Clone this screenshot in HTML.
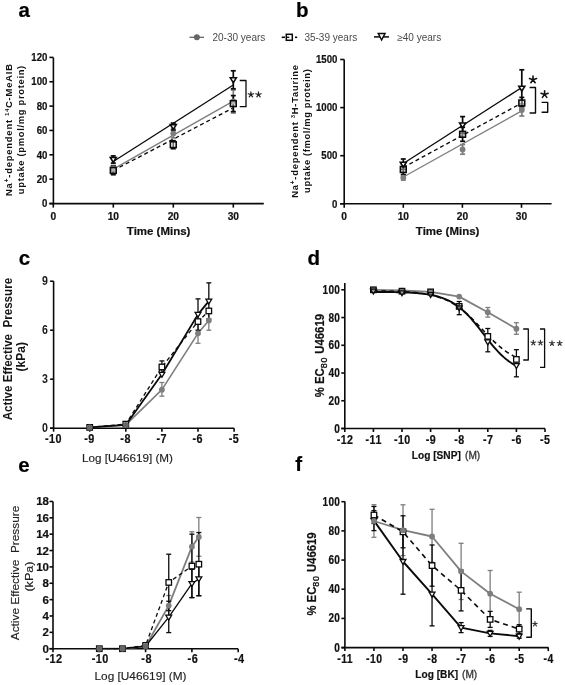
<!DOCTYPE html>
<html><head><meta charset="utf-8"><style>
html,body{margin:0;padding:0;background:#fff;}
svg{display:block;font-family:"Liberation Sans", sans-serif;will-change:transform;}
</style></head><body>
<svg width="565" height="685" viewBox="0 0 565 685">
<rect width="565" height="685" fill="#fff"/>
<text transform="translate(18.50,17.40)" font-size="20.5" font-weight="bold" text-anchor="start" fill="#000" stroke="#000" stroke-width="0.2">a</text>
<text transform="translate(296.00,17.40)" font-size="20.5" font-weight="bold" text-anchor="start" fill="#000" stroke="#000" stroke-width="0.2">b</text>
<text transform="translate(18.70,265.00)" font-size="20.5" font-weight="bold" text-anchor="start" fill="#000" stroke="#000" stroke-width="0.2">c</text>
<text transform="translate(307.50,264.50)" font-size="20.5" font-weight="bold" text-anchor="start" fill="#000" stroke="#000" stroke-width="0.2">d</text>
<text transform="translate(18.20,471.60)" font-size="20.5" font-weight="bold" text-anchor="start" fill="#000" stroke="#000" stroke-width="0.2">e</text>
<text transform="translate(295.30,471.20)" font-size="20.5" font-weight="bold" text-anchor="start" fill="#000" stroke="#000" stroke-width="0.2">f</text>
<line x1="189.50" y1="37.30" x2="204.00" y2="37.30" stroke="#666" stroke-width="1.3" stroke-linecap="butt"/>
<circle cx="196.90" cy="37.30" r="3.0" fill="#666"/>
<text transform="translate(212.50,40.50)" font-size="10" font-weight="normal" text-anchor="start" fill="#4a4a4a">20-30 years</text>
<line x1="281.70" y1="37.30" x2="285.00" y2="37.30" stroke="#0a0a0a" stroke-width="1.6" stroke-linecap="butt"/>
<line x1="295.00" y1="37.30" x2="297.20" y2="37.30" stroke="#0a0a0a" stroke-width="1.6" stroke-linecap="butt"/>
<rect x="286.30" y="34.30" width="6.00" height="6.00" fill="#fff" stroke="#0a0a0a" stroke-width="1.5"/>
<line x1="286.00" y1="37.30" x2="289.30" y2="37.30" stroke="#0a0a0a" stroke-width="1.3" stroke-linecap="butt"/>
<text transform="translate(304.40,40.50)" font-size="10" font-weight="normal" text-anchor="start" fill="#4a4a4a">35-39 years</text>
<line x1="374.00" y1="36.90" x2="389.00" y2="36.90" stroke="#0a0a0a" stroke-width="1.5" stroke-linecap="butt"/>
<polygon points="378.3,33.6 385,33.6 381.6,40" fill="#fff" stroke="#0a0a0a" stroke-width="1.5"/>
<text transform="translate(397.30,40.50)" font-size="10" font-weight="normal" text-anchor="start" fill="#4a4a4a">&#8805;40 years</text>
<line x1="53.40" y1="57.50" x2="53.40" y2="203.60" stroke="#0a0a0a" stroke-width="1.6" stroke-linecap="butt"/>
<line x1="49.40" y1="203.60" x2="263.80" y2="203.60" stroke="#0a0a0a" stroke-width="1.6" stroke-linecap="butt"/>
<line x1="49.40" y1="203.50" x2="53.40" y2="203.50" stroke="#0a0a0a" stroke-width="1.6" stroke-linecap="butt"/>
<line x1="49.40" y1="179.15" x2="53.40" y2="179.15" stroke="#0a0a0a" stroke-width="1.6" stroke-linecap="butt"/>
<line x1="49.40" y1="154.80" x2="53.40" y2="154.80" stroke="#0a0a0a" stroke-width="1.6" stroke-linecap="butt"/>
<line x1="49.40" y1="130.45" x2="53.40" y2="130.45" stroke="#0a0a0a" stroke-width="1.6" stroke-linecap="butt"/>
<line x1="49.40" y1="106.10" x2="53.40" y2="106.10" stroke="#0a0a0a" stroke-width="1.6" stroke-linecap="butt"/>
<line x1="49.40" y1="81.75" x2="53.40" y2="81.75" stroke="#0a0a0a" stroke-width="1.6" stroke-linecap="butt"/>
<line x1="49.40" y1="57.40" x2="53.40" y2="57.40" stroke="#0a0a0a" stroke-width="1.6" stroke-linecap="butt"/>
<line x1="53.30" y1="203.60" x2="53.30" y2="207.60" stroke="#0a0a0a" stroke-width="1.6" stroke-linecap="butt"/>
<line x1="113.30" y1="203.60" x2="113.30" y2="207.60" stroke="#0a0a0a" stroke-width="1.6" stroke-linecap="butt"/>
<line x1="173.30" y1="203.60" x2="173.30" y2="207.60" stroke="#0a0a0a" stroke-width="1.6" stroke-linecap="butt"/>
<line x1="233.30" y1="203.60" x2="233.30" y2="207.60" stroke="#0a0a0a" stroke-width="1.6" stroke-linecap="butt"/>
<text transform="translate(47.40,207.20) scale(0.92,1)" font-size="10.5" font-weight="bold" text-anchor="end" fill="#111" stroke="#111" stroke-width="0.2">0</text>
<text transform="translate(47.40,182.85) scale(0.92,1)" font-size="10.5" font-weight="bold" text-anchor="end" fill="#111" stroke="#111" stroke-width="0.2">20</text>
<text transform="translate(47.40,158.50) scale(0.92,1)" font-size="10.5" font-weight="bold" text-anchor="end" fill="#111" stroke="#111" stroke-width="0.2">40</text>
<text transform="translate(47.40,134.15) scale(0.92,1)" font-size="10.5" font-weight="bold" text-anchor="end" fill="#111" stroke="#111" stroke-width="0.2">60</text>
<text transform="translate(47.40,109.80) scale(0.92,1)" font-size="10.5" font-weight="bold" text-anchor="end" fill="#111" stroke="#111" stroke-width="0.2">80</text>
<text transform="translate(47.40,85.45) scale(0.92,1)" font-size="10.5" font-weight="bold" text-anchor="end" fill="#111" stroke="#111" stroke-width="0.2">100</text>
<text transform="translate(47.40,61.10) scale(0.92,1)" font-size="10.5" font-weight="bold" text-anchor="end" fill="#111" stroke="#111" stroke-width="0.2">120</text>
<text transform="translate(53.30,219.60)" font-size="10.2" font-weight="bold" text-anchor="middle" fill="#111" stroke="#111" stroke-width="0.2">0</text>
<text transform="translate(113.30,219.60)" font-size="10.2" font-weight="bold" text-anchor="middle" fill="#111" stroke="#111" stroke-width="0.2">10</text>
<text transform="translate(173.30,219.60)" font-size="10.2" font-weight="bold" text-anchor="middle" fill="#111" stroke="#111" stroke-width="0.2">20</text>
<text transform="translate(233.30,219.60)" font-size="10.2" font-weight="bold" text-anchor="middle" fill="#111" stroke="#111" stroke-width="0.2">30</text>
<text transform="translate(158.60,235.20) scale(0.99,1)" font-size="11.6" font-weight="bold" text-anchor="middle" fill="#111" stroke="#111" stroke-width="0.2">Time (Mins)</text>
<text transform="translate(12.20,129.60) rotate(-90)" font-size="9.4" font-weight="bold" text-anchor="middle" fill="#111" letter-spacing="0.81">Na<tspan font-size="6.5" dy="-3.5">+</tspan><tspan dy="3.5">-dependent </tspan><tspan font-size="5.5" dy="-3.5">14</tspan><tspan dy="3.5">C-MeAIB</tspan></text>
<text transform="translate(23.80,129.60) rotate(-90)" font-size="9.4" font-weight="bold" text-anchor="middle" fill="#111" letter-spacing="0.69">uptake (pmol/mg protein)</text>
<line x1="113.30" y1="161.50" x2="233.30" y2="85.00" stroke="#0a0a0a" stroke-width="1.35" stroke-linecap="butt"/>
<line x1="113.30" y1="169.20" x2="233.30" y2="101.10" stroke="#7e7e7e" stroke-width="1.35" stroke-linecap="butt"/>
<line x1="113.30" y1="170.50" x2="233.30" y2="107.80" stroke="#0a0a0a" stroke-width="1.35" stroke-linecap="butt" stroke-dasharray="4,3"/>
<line x1="113.30" y1="165.50" x2="113.30" y2="171.50" stroke="#7e7e7e" stroke-width="1.7" stroke-linecap="butt"/>
<line x1="110.80" y1="165.50" x2="115.80" y2="165.50" stroke="#7e7e7e" stroke-width="1.7" stroke-linecap="butt"/>
<line x1="110.80" y1="171.50" x2="115.80" y2="171.50" stroke="#7e7e7e" stroke-width="1.7" stroke-linecap="butt"/>
<line x1="173.30" y1="128.90" x2="173.30" y2="137.90" stroke="#7e7e7e" stroke-width="1.7" stroke-linecap="butt"/>
<line x1="170.80" y1="128.90" x2="175.80" y2="128.90" stroke="#7e7e7e" stroke-width="1.7" stroke-linecap="butt"/>
<line x1="170.80" y1="137.90" x2="175.80" y2="137.90" stroke="#7e7e7e" stroke-width="1.7" stroke-linecap="butt"/>
<line x1="233.30" y1="90.00" x2="233.30" y2="113.00" stroke="#7e7e7e" stroke-width="1.7" stroke-linecap="butt"/>
<line x1="230.80" y1="90.00" x2="235.80" y2="90.00" stroke="#7e7e7e" stroke-width="1.7" stroke-linecap="butt"/>
<line x1="230.80" y1="113.00" x2="235.80" y2="113.00" stroke="#7e7e7e" stroke-width="1.7" stroke-linecap="butt"/>
<line x1="113.30" y1="155.90" x2="113.30" y2="163.10" stroke="#0a0a0a" stroke-width="1.7" stroke-linecap="butt"/>
<line x1="110.80" y1="155.90" x2="115.80" y2="155.90" stroke="#0a0a0a" stroke-width="1.7" stroke-linecap="butt"/>
<line x1="110.80" y1="163.10" x2="115.80" y2="163.10" stroke="#0a0a0a" stroke-width="1.7" stroke-linecap="butt"/>
<line x1="173.30" y1="123.10" x2="173.30" y2="130.10" stroke="#0a0a0a" stroke-width="1.7" stroke-linecap="butt"/>
<line x1="170.80" y1="123.10" x2="175.80" y2="123.10" stroke="#0a0a0a" stroke-width="1.7" stroke-linecap="butt"/>
<line x1="170.80" y1="130.10" x2="175.80" y2="130.10" stroke="#0a0a0a" stroke-width="1.7" stroke-linecap="butt"/>
<line x1="233.30" y1="70.80" x2="233.30" y2="88.80" stroke="#0a0a0a" stroke-width="1.7" stroke-linecap="butt"/>
<line x1="230.80" y1="70.80" x2="235.80" y2="70.80" stroke="#0a0a0a" stroke-width="1.7" stroke-linecap="butt"/>
<line x1="230.80" y1="88.80" x2="235.80" y2="88.80" stroke="#0a0a0a" stroke-width="1.7" stroke-linecap="butt"/>
<line x1="113.30" y1="166.10" x2="113.30" y2="174.70" stroke="#0a0a0a" stroke-width="1.7" stroke-linecap="butt"/>
<line x1="110.80" y1="166.10" x2="115.80" y2="166.10" stroke="#0a0a0a" stroke-width="1.7" stroke-linecap="butt"/>
<line x1="110.80" y1="174.70" x2="115.80" y2="174.70" stroke="#0a0a0a" stroke-width="1.7" stroke-linecap="butt"/>
<line x1="173.30" y1="140.70" x2="173.30" y2="148.70" stroke="#0a0a0a" stroke-width="1.7" stroke-linecap="butt"/>
<line x1="170.80" y1="140.70" x2="175.80" y2="140.70" stroke="#0a0a0a" stroke-width="1.7" stroke-linecap="butt"/>
<line x1="170.80" y1="148.70" x2="175.80" y2="148.70" stroke="#0a0a0a" stroke-width="1.7" stroke-linecap="butt"/>
<line x1="233.30" y1="95.60" x2="233.30" y2="111.60" stroke="#0a0a0a" stroke-width="1.7" stroke-linecap="butt"/>
<line x1="230.80" y1="95.60" x2="235.80" y2="95.60" stroke="#0a0a0a" stroke-width="1.7" stroke-linecap="butt"/>
<line x1="230.80" y1="111.60" x2="235.80" y2="111.60" stroke="#0a0a0a" stroke-width="1.7" stroke-linecap="butt"/>
<circle cx="113.30" cy="168.50" r="2.9" fill="#7e7e7e"/>
<circle cx="173.30" cy="133.40" r="2.9" fill="#7e7e7e"/>
<circle cx="233.30" cy="101.50" r="2.9" fill="#7e7e7e"/>
<rect x="110.40" y="167.50" width="5.80" height="5.80" fill="#fff" fill-opacity="0.4" stroke="#0a0a0a" stroke-width="1.6"/>
<rect x="170.40" y="141.80" width="5.80" height="5.80" fill="#fff" fill-opacity="0.4" stroke="#0a0a0a" stroke-width="1.6"/>
<rect x="230.40" y="100.70" width="5.80" height="5.80" fill="#fff" fill-opacity="0.4" stroke="#0a0a0a" stroke-width="1.6"/>
<polygon points="110.30,157.50 116.30,157.50 113.30,162.40" fill="#fff" stroke="#0a0a0a" stroke-width="1.6" stroke-linejoin="miter"/>
<polygon points="170.30,124.60 176.30,124.60 173.30,129.50" fill="#fff" stroke="#0a0a0a" stroke-width="1.6" stroke-linejoin="miter"/>
<polygon points="230.30,77.80 236.30,77.80 233.30,82.70" fill="#fff" stroke="#0a0a0a" stroke-width="1.6" stroke-linejoin="miter"/>
<polyline points="239.70,80.50 246.00,80.50 246.00,106.70 239.70,106.70" fill="none" stroke="#0a0a0a" stroke-width="1.3" stroke-linejoin="round"/>
<path d="M250.90,94.60L250.90,91.80M250.90,94.60L253.56,93.73M250.90,94.60L252.55,96.87M250.90,94.60L249.25,96.87M250.90,94.60L248.24,93.73" stroke="#222" stroke-width="1.2" stroke-linecap="round" fill="none"/>
<path d="M258.50,94.60L258.50,91.80M258.50,94.60L261.16,93.73M258.50,94.60L260.15,96.87M258.50,94.60L256.85,96.87M258.50,94.60L255.84,93.73" stroke="#222" stroke-width="1.2" stroke-linecap="round" fill="none"/>
<line x1="344.20" y1="59.50" x2="344.20" y2="203.80" stroke="#0a0a0a" stroke-width="1.6" stroke-linecap="butt"/>
<line x1="340.20" y1="203.80" x2="551.60" y2="203.80" stroke="#0a0a0a" stroke-width="1.6" stroke-linecap="butt"/>
<line x1="340.20" y1="203.80" x2="344.20" y2="203.80" stroke="#0a0a0a" stroke-width="1.6" stroke-linecap="butt"/>
<line x1="340.20" y1="155.70" x2="344.20" y2="155.70" stroke="#0a0a0a" stroke-width="1.6" stroke-linecap="butt"/>
<line x1="340.20" y1="107.60" x2="344.20" y2="107.60" stroke="#0a0a0a" stroke-width="1.6" stroke-linecap="butt"/>
<line x1="340.20" y1="59.50" x2="344.20" y2="59.50" stroke="#0a0a0a" stroke-width="1.6" stroke-linecap="butt"/>
<line x1="344.20" y1="203.80" x2="344.20" y2="207.80" stroke="#0a0a0a" stroke-width="1.6" stroke-linecap="butt"/>
<line x1="403.30" y1="203.80" x2="403.30" y2="207.80" stroke="#0a0a0a" stroke-width="1.6" stroke-linecap="butt"/>
<line x1="462.40" y1="203.80" x2="462.40" y2="207.80" stroke="#0a0a0a" stroke-width="1.6" stroke-linecap="butt"/>
<line x1="521.50" y1="203.80" x2="521.50" y2="207.80" stroke="#0a0a0a" stroke-width="1.6" stroke-linecap="butt"/>
<text transform="translate(337.40,207.50) scale(0.92,1)" font-size="10.5" font-weight="bold" text-anchor="end" fill="#111" stroke="#111" stroke-width="0.2">0</text>
<text transform="translate(337.40,159.40) scale(0.92,1)" font-size="10.5" font-weight="bold" text-anchor="end" fill="#111" stroke="#111" stroke-width="0.2">500</text>
<text transform="translate(337.40,111.30) scale(0.92,1)" font-size="10.5" font-weight="bold" text-anchor="end" fill="#111" stroke="#111" stroke-width="0.2">1000</text>
<text transform="translate(337.40,63.20) scale(0.92,1)" font-size="10.5" font-weight="bold" text-anchor="end" fill="#111" stroke="#111" stroke-width="0.2">1500</text>
<text transform="translate(344.20,219.60)" font-size="10.2" font-weight="bold" text-anchor="middle" fill="#111" stroke="#111" stroke-width="0.2">0</text>
<text transform="translate(403.30,219.60)" font-size="10.2" font-weight="bold" text-anchor="middle" fill="#111" stroke="#111" stroke-width="0.2">10</text>
<text transform="translate(462.40,219.60)" font-size="10.2" font-weight="bold" text-anchor="middle" fill="#111" stroke="#111" stroke-width="0.2">20</text>
<text transform="translate(521.50,219.60)" font-size="10.2" font-weight="bold" text-anchor="middle" fill="#111" stroke="#111" stroke-width="0.2">30</text>
<text transform="translate(447.60,235.20) scale(0.99,1)" font-size="11.6" font-weight="bold" text-anchor="middle" fill="#111" stroke="#111" stroke-width="0.2">Time (Mins)</text>
<text transform="translate(298.40,131.00) rotate(-90)" font-size="9.4" font-weight="bold" text-anchor="middle" fill="#111" letter-spacing="0.77">Na<tspan font-size="6.5" dy="-3.5">+</tspan><tspan dy="3.5">-dependent </tspan><tspan font-size="5.5" dy="-3.5">3</tspan><tspan dy="3.5">H-Taurine</tspan></text>
<text transform="translate(309.80,130.80) rotate(-90)" font-size="9.4" font-weight="bold" text-anchor="middle" fill="#111" letter-spacing="0.6">uptake (fmol/mg protein)</text>
<line x1="403.30" y1="163.50" x2="521.80" y2="87.50" stroke="#0a0a0a" stroke-width="1.35" stroke-linecap="butt"/>
<line x1="403.30" y1="177.00" x2="521.80" y2="110.90" stroke="#7e7e7e" stroke-width="1.35" stroke-linecap="butt"/>
<line x1="403.30" y1="167.50" x2="521.80" y2="103.00" stroke="#0a0a0a" stroke-width="1.35" stroke-linecap="butt" stroke-dasharray="4,3"/>
<line x1="403.30" y1="175.10" x2="403.30" y2="180.10" stroke="#7e7e7e" stroke-width="1.7" stroke-linecap="butt"/>
<line x1="400.80" y1="175.10" x2="405.80" y2="175.10" stroke="#7e7e7e" stroke-width="1.7" stroke-linecap="butt"/>
<line x1="400.80" y1="180.10" x2="405.80" y2="180.10" stroke="#7e7e7e" stroke-width="1.7" stroke-linecap="butt"/>
<line x1="462.60" y1="144.60" x2="462.60" y2="154.20" stroke="#7e7e7e" stroke-width="1.7" stroke-linecap="butt"/>
<line x1="460.10" y1="144.60" x2="465.10" y2="144.60" stroke="#7e7e7e" stroke-width="1.7" stroke-linecap="butt"/>
<line x1="460.10" y1="154.20" x2="465.10" y2="154.20" stroke="#7e7e7e" stroke-width="1.7" stroke-linecap="butt"/>
<line x1="521.80" y1="104.00" x2="521.80" y2="116.00" stroke="#7e7e7e" stroke-width="1.7" stroke-linecap="butt"/>
<line x1="519.30" y1="104.00" x2="524.30" y2="104.00" stroke="#7e7e7e" stroke-width="1.7" stroke-linecap="butt"/>
<line x1="519.30" y1="116.00" x2="524.30" y2="116.00" stroke="#7e7e7e" stroke-width="1.7" stroke-linecap="butt"/>
<line x1="403.30" y1="159.00" x2="403.30" y2="169.40" stroke="#0a0a0a" stroke-width="1.7" stroke-linecap="butt"/>
<line x1="400.80" y1="159.00" x2="405.80" y2="159.00" stroke="#0a0a0a" stroke-width="1.7" stroke-linecap="butt"/>
<line x1="400.80" y1="169.40" x2="405.80" y2="169.40" stroke="#0a0a0a" stroke-width="1.7" stroke-linecap="butt"/>
<line x1="462.60" y1="116.60" x2="462.60" y2="133.40" stroke="#0a0a0a" stroke-width="1.7" stroke-linecap="butt"/>
<line x1="460.10" y1="116.60" x2="465.10" y2="116.60" stroke="#0a0a0a" stroke-width="1.7" stroke-linecap="butt"/>
<line x1="460.10" y1="133.40" x2="465.10" y2="133.40" stroke="#0a0a0a" stroke-width="1.7" stroke-linecap="butt"/>
<line x1="521.80" y1="69.80" x2="521.80" y2="106.60" stroke="#0a0a0a" stroke-width="1.7" stroke-linecap="butt"/>
<line x1="519.30" y1="69.80" x2="524.30" y2="69.80" stroke="#0a0a0a" stroke-width="1.7" stroke-linecap="butt"/>
<line x1="519.30" y1="106.60" x2="524.30" y2="106.60" stroke="#0a0a0a" stroke-width="1.7" stroke-linecap="butt"/>
<line x1="403.30" y1="164.50" x2="403.30" y2="174.50" stroke="#0a0a0a" stroke-width="1.7" stroke-linecap="butt"/>
<line x1="400.80" y1="164.50" x2="405.80" y2="164.50" stroke="#0a0a0a" stroke-width="1.7" stroke-linecap="butt"/>
<line x1="400.80" y1="174.50" x2="405.80" y2="174.50" stroke="#0a0a0a" stroke-width="1.7" stroke-linecap="butt"/>
<line x1="462.60" y1="127.30" x2="462.60" y2="141.30" stroke="#0a0a0a" stroke-width="1.7" stroke-linecap="butt"/>
<line x1="460.10" y1="127.30" x2="465.10" y2="127.30" stroke="#0a0a0a" stroke-width="1.7" stroke-linecap="butt"/>
<line x1="460.10" y1="141.30" x2="465.10" y2="141.30" stroke="#0a0a0a" stroke-width="1.7" stroke-linecap="butt"/>
<line x1="521.80" y1="97.40" x2="521.80" y2="108.60" stroke="#0a0a0a" stroke-width="1.7" stroke-linecap="butt"/>
<line x1="519.30" y1="97.40" x2="524.30" y2="97.40" stroke="#0a0a0a" stroke-width="1.7" stroke-linecap="butt"/>
<line x1="519.30" y1="108.60" x2="524.30" y2="108.60" stroke="#0a0a0a" stroke-width="1.7" stroke-linecap="butt"/>
<circle cx="403.30" cy="177.60" r="2.9" fill="#7e7e7e"/>
<circle cx="462.60" cy="149.40" r="2.9" fill="#7e7e7e"/>
<circle cx="521.80" cy="110.00" r="2.9" fill="#7e7e7e"/>
<rect x="400.40" y="166.60" width="5.80" height="5.80" fill="#fff" fill-opacity="0.4" stroke="#0a0a0a" stroke-width="1.6"/>
<rect x="459.70" y="131.40" width="5.80" height="5.80" fill="#fff" fill-opacity="0.4" stroke="#0a0a0a" stroke-width="1.6"/>
<rect x="518.90" y="100.10" width="5.80" height="5.80" fill="#fff" fill-opacity="0.4" stroke="#0a0a0a" stroke-width="1.6"/>
<polygon points="400.30,162.20 406.30,162.20 403.30,167.10" fill="#fff" stroke="#0a0a0a" stroke-width="1.6" stroke-linejoin="miter"/>
<polygon points="459.60,123.00 465.60,123.00 462.60,127.90" fill="#fff" stroke="#0a0a0a" stroke-width="1.6" stroke-linejoin="miter"/>
<polygon points="518.80,86.20 524.80,86.20 521.80,91.10" fill="#fff" stroke="#0a0a0a" stroke-width="1.6" stroke-linejoin="miter"/>
<polyline points="529.60,87.50 535.50,87.50 535.50,113.00 529.60,113.00" fill="none" stroke="#0a0a0a" stroke-width="1.4" stroke-linejoin="round"/>
<polyline points="541.60,102.40 547.70,102.40 547.70,112.30 541.60,112.30" fill="none" stroke="#0a0a0a" stroke-width="1.4" stroke-linejoin="round"/>
<path d="M533.00,79.70L533.00,76.00M533.00,79.70L536.52,78.56M533.00,79.70L535.17,82.69M533.00,79.70L530.83,82.69M533.00,79.70L529.48,78.56" stroke="#111" stroke-width="1.6" stroke-linecap="round" fill="none"/>
<path d="M544.60,94.40L544.60,90.70M544.60,94.40L548.12,93.26M544.60,94.40L546.77,97.39M544.60,94.40L542.43,97.39M544.60,94.40L541.08,93.26" stroke="#111" stroke-width="1.6" stroke-linecap="round" fill="none"/>
<line x1="53.60" y1="281.20" x2="53.60" y2="428.20" stroke="#0a0a0a" stroke-width="1.6" stroke-linecap="butt"/>
<line x1="50.10" y1="428.20" x2="234.10" y2="428.20" stroke="#0a0a0a" stroke-width="1.6" stroke-linecap="butt"/>
<line x1="50.10" y1="428.20" x2="53.60" y2="428.20" stroke="#0a0a0a" stroke-width="1.6" stroke-linecap="butt"/>
<line x1="50.10" y1="379.21" x2="53.60" y2="379.21" stroke="#0a0a0a" stroke-width="1.6" stroke-linecap="butt"/>
<line x1="50.10" y1="330.22" x2="53.60" y2="330.22" stroke="#0a0a0a" stroke-width="1.6" stroke-linecap="butt"/>
<line x1="50.10" y1="281.23" x2="53.60" y2="281.23" stroke="#0a0a0a" stroke-width="1.6" stroke-linecap="butt"/>
<line x1="53.60" y1="428.20" x2="53.60" y2="431.70" stroke="#0a0a0a" stroke-width="1.6" stroke-linecap="butt"/>
<line x1="89.70" y1="428.20" x2="89.70" y2="431.70" stroke="#0a0a0a" stroke-width="1.6" stroke-linecap="butt"/>
<line x1="125.80" y1="428.20" x2="125.80" y2="431.70" stroke="#0a0a0a" stroke-width="1.6" stroke-linecap="butt"/>
<line x1="161.90" y1="428.20" x2="161.90" y2="431.70" stroke="#0a0a0a" stroke-width="1.6" stroke-linecap="butt"/>
<line x1="198.00" y1="428.20" x2="198.00" y2="431.70" stroke="#0a0a0a" stroke-width="1.6" stroke-linecap="butt"/>
<line x1="234.10" y1="428.20" x2="234.10" y2="431.70" stroke="#0a0a0a" stroke-width="1.6" stroke-linecap="butt"/>
<text transform="translate(48.00,432.40) scale(0.87,1)" font-size="12.2" font-weight="bold" text-anchor="end" fill="#1a1a1a">0</text>
<text transform="translate(48.00,383.41) scale(0.87,1)" font-size="12.2" font-weight="bold" text-anchor="end" fill="#1a1a1a">3</text>
<text transform="translate(48.00,334.42) scale(0.87,1)" font-size="12.2" font-weight="bold" text-anchor="end" fill="#1a1a1a">6</text>
<text transform="translate(48.00,285.43) scale(0.87,1)" font-size="12.2" font-weight="bold" text-anchor="end" fill="#1a1a1a">9</text>
<text transform="translate(53.40,442.60) scale(0.9,1)" font-size="12.0" font-weight="bold" text-anchor="middle" fill="#111" letter-spacing="0.5" stroke="#111" stroke-width="0.2">-10</text>
<text transform="translate(89.50,442.60) scale(0.9,1)" font-size="12.0" font-weight="bold" text-anchor="middle" fill="#111" letter-spacing="0.5" stroke="#111" stroke-width="0.2">-9</text>
<text transform="translate(125.60,442.60) scale(0.9,1)" font-size="12.0" font-weight="bold" text-anchor="middle" fill="#111" letter-spacing="0.5" stroke="#111" stroke-width="0.2">-8</text>
<text transform="translate(161.70,442.60) scale(0.9,1)" font-size="12.0" font-weight="bold" text-anchor="middle" fill="#111" letter-spacing="0.5" stroke="#111" stroke-width="0.2">-7</text>
<text transform="translate(197.80,442.60) scale(0.9,1)" font-size="12.0" font-weight="bold" text-anchor="middle" fill="#111" letter-spacing="0.5" stroke="#111" stroke-width="0.2">-6</text>
<text transform="translate(233.90,442.60) scale(0.9,1)" font-size="12.0" font-weight="bold" text-anchor="middle" fill="#111" letter-spacing="0.5" stroke="#111" stroke-width="0.2">-5</text>
<text transform="translate(127.50,462.20) scale(1.01,1)" font-size="11.6" font-weight="normal" text-anchor="middle" fill="#222" stroke="#222" stroke-width="0.15">Log [U46619] (M)</text>
<text transform="translate(11.90,349.10) rotate(-90) scale(0.935,1)" font-size="12.4" font-weight="bold" text-anchor="middle" fill="#151515">Active Effective&#160; Pressure</text>
<text transform="translate(25.30,356.80) rotate(-90)" font-size="12.0" font-weight="bold" text-anchor="middle" fill="#151515">(kPa)</text>
<polyline points="89.70,427.38 125.80,424.93 161.90,389.66 198.00,333.32 208.83,320.42" fill="none" stroke="#7e7e7e" stroke-width="1.6" stroke-linejoin="round"/>
<polyline points="89.70,427.38 125.80,424.12 161.90,366.96 198.00,321.57 208.83,310.95" fill="none" stroke="#0a0a0a" stroke-width="1.3" stroke-linejoin="round" stroke-dasharray="4,3"/>
<polyline points="89.70,427.38 125.80,424.93 161.90,374.31 198.00,314.38 208.83,301.15" fill="none" stroke="#0a0a0a" stroke-width="1.8" stroke-linejoin="round"/>
<line x1="161.90" y1="382.48" x2="161.90" y2="396.19" stroke="#7e7e7e" stroke-width="1.3" stroke-linecap="butt"/>
<line x1="159.40" y1="382.48" x2="164.40" y2="382.48" stroke="#7e7e7e" stroke-width="1.3" stroke-linecap="butt"/>
<line x1="159.40" y1="396.19" x2="164.40" y2="396.19" stroke="#7e7e7e" stroke-width="1.3" stroke-linecap="butt"/>
<line x1="198.00" y1="323.69" x2="198.00" y2="343.28" stroke="#7e7e7e" stroke-width="1.3" stroke-linecap="butt"/>
<line x1="195.50" y1="323.69" x2="200.50" y2="323.69" stroke="#7e7e7e" stroke-width="1.3" stroke-linecap="butt"/>
<line x1="195.50" y1="343.28" x2="200.50" y2="343.28" stroke="#7e7e7e" stroke-width="1.3" stroke-linecap="butt"/>
<line x1="208.83" y1="310.62" x2="208.83" y2="330.22" stroke="#7e7e7e" stroke-width="1.3" stroke-linecap="butt"/>
<line x1="206.33" y1="310.62" x2="211.33" y2="310.62" stroke="#7e7e7e" stroke-width="1.3" stroke-linecap="butt"/>
<line x1="206.33" y1="330.22" x2="211.33" y2="330.22" stroke="#7e7e7e" stroke-width="1.3" stroke-linecap="butt"/>
<line x1="161.90" y1="360.92" x2="161.90" y2="372.68" stroke="#0a0a0a" stroke-width="1.3" stroke-linecap="butt"/>
<line x1="159.40" y1="360.92" x2="164.40" y2="360.92" stroke="#0a0a0a" stroke-width="1.3" stroke-linecap="butt"/>
<line x1="159.40" y1="372.68" x2="164.40" y2="372.68" stroke="#0a0a0a" stroke-width="1.3" stroke-linecap="butt"/>
<line x1="198.00" y1="298.87" x2="198.00" y2="330.22" stroke="#0a0a0a" stroke-width="1.3" stroke-linecap="butt"/>
<line x1="195.50" y1="298.87" x2="200.50" y2="298.87" stroke="#0a0a0a" stroke-width="1.3" stroke-linecap="butt"/>
<line x1="195.50" y1="330.22" x2="200.50" y2="330.22" stroke="#0a0a0a" stroke-width="1.3" stroke-linecap="butt"/>
<line x1="208.83" y1="282.86" x2="208.83" y2="318.79" stroke="#0a0a0a" stroke-width="1.3" stroke-linecap="butt"/>
<line x1="206.33" y1="282.86" x2="211.33" y2="282.86" stroke="#0a0a0a" stroke-width="1.3" stroke-linecap="butt"/>
<line x1="206.33" y1="318.79" x2="211.33" y2="318.79" stroke="#0a0a0a" stroke-width="1.3" stroke-linecap="butt"/>
<rect x="86.95" y="424.63" width="5.50" height="5.50" fill="#fff" stroke="#0a0a0a" stroke-width="1.3"/>
<rect x="123.05" y="421.37" width="5.50" height="5.50" fill="#fff" stroke="#0a0a0a" stroke-width="1.3"/>
<rect x="159.15" y="364.21" width="5.50" height="5.50" fill="#fff" stroke="#0a0a0a" stroke-width="1.3"/>
<rect x="195.25" y="318.82" width="5.50" height="5.50" fill="#fff" stroke="#0a0a0a" stroke-width="1.3"/>
<rect x="206.08" y="308.20" width="5.50" height="5.50" fill="#fff" stroke="#0a0a0a" stroke-width="1.3"/>
<polygon points="159.00,372.31 164.80,372.31 161.90,377.21" fill="#fff" stroke="#0a0a0a" stroke-width="1.3" stroke-linejoin="miter"/>
<polygon points="195.10,312.38 200.90,312.38 198.00,317.28" fill="#fff" stroke="#0a0a0a" stroke-width="1.3" stroke-linejoin="miter"/>
<polygon points="205.93,299.15 211.73,299.15 208.83,304.05" fill="#fff" stroke="#0a0a0a" stroke-width="1.3" stroke-linejoin="miter"/>
<circle cx="89.70" cy="427.38" r="3.0" fill="#666"/>
<circle cx="125.80" cy="424.93" r="3.0" fill="#666"/>
<circle cx="161.90" cy="389.66" r="2.9" fill="#7e7e7e"/>
<circle cx="198.00" cy="333.32" r="2.9" fill="#7e7e7e"/>
<circle cx="208.83" cy="320.42" r="2.9" fill="#7e7e7e"/>
<line x1="344.80" y1="283.00" x2="344.80" y2="428.50" stroke="#0a0a0a" stroke-width="1.6" stroke-linecap="butt"/>
<line x1="341.30" y1="428.50" x2="545.00" y2="428.50" stroke="#0a0a0a" stroke-width="1.6" stroke-linecap="butt"/>
<line x1="341.30" y1="428.50" x2="344.80" y2="428.50" stroke="#0a0a0a" stroke-width="1.6" stroke-linecap="butt"/>
<line x1="341.30" y1="400.76" x2="344.80" y2="400.76" stroke="#0a0a0a" stroke-width="1.6" stroke-linecap="butt"/>
<line x1="341.30" y1="373.02" x2="344.80" y2="373.02" stroke="#0a0a0a" stroke-width="1.6" stroke-linecap="butt"/>
<line x1="341.30" y1="345.28" x2="344.80" y2="345.28" stroke="#0a0a0a" stroke-width="1.6" stroke-linecap="butt"/>
<line x1="341.30" y1="317.54" x2="344.80" y2="317.54" stroke="#0a0a0a" stroke-width="1.6" stroke-linecap="butt"/>
<line x1="341.30" y1="289.80" x2="344.80" y2="289.80" stroke="#0a0a0a" stroke-width="1.6" stroke-linecap="butt"/>
<line x1="344.80" y1="428.50" x2="344.80" y2="432.00" stroke="#0a0a0a" stroke-width="1.6" stroke-linecap="butt"/>
<line x1="373.40" y1="428.50" x2="373.40" y2="432.00" stroke="#0a0a0a" stroke-width="1.6" stroke-linecap="butt"/>
<line x1="402.00" y1="428.50" x2="402.00" y2="432.00" stroke="#0a0a0a" stroke-width="1.6" stroke-linecap="butt"/>
<line x1="430.60" y1="428.50" x2="430.60" y2="432.00" stroke="#0a0a0a" stroke-width="1.6" stroke-linecap="butt"/>
<line x1="459.20" y1="428.50" x2="459.20" y2="432.00" stroke="#0a0a0a" stroke-width="1.6" stroke-linecap="butt"/>
<line x1="487.80" y1="428.50" x2="487.80" y2="432.00" stroke="#0a0a0a" stroke-width="1.6" stroke-linecap="butt"/>
<line x1="516.40" y1="428.50" x2="516.40" y2="432.00" stroke="#0a0a0a" stroke-width="1.6" stroke-linecap="butt"/>
<line x1="545.00" y1="428.50" x2="545.00" y2="432.00" stroke="#0a0a0a" stroke-width="1.6" stroke-linecap="butt"/>
<text transform="translate(340.30,432.50) scale(0.82,1)" font-size="12.3" font-weight="bold" text-anchor="end" fill="#111" letter-spacing="0.4" stroke="#111" stroke-width="0.2">0</text>
<text transform="translate(340.30,404.76) scale(0.82,1)" font-size="12.3" font-weight="bold" text-anchor="end" fill="#111" letter-spacing="0.4" stroke="#111" stroke-width="0.2">20</text>
<text transform="translate(340.30,377.02) scale(0.82,1)" font-size="12.3" font-weight="bold" text-anchor="end" fill="#111" letter-spacing="0.4" stroke="#111" stroke-width="0.2">40</text>
<text transform="translate(340.30,349.28) scale(0.82,1)" font-size="12.3" font-weight="bold" text-anchor="end" fill="#111" letter-spacing="0.4" stroke="#111" stroke-width="0.2">60</text>
<text transform="translate(340.30,321.54) scale(0.82,1)" font-size="12.3" font-weight="bold" text-anchor="end" fill="#111" letter-spacing="0.4" stroke="#111" stroke-width="0.2">80</text>
<text transform="translate(340.30,293.80) scale(0.82,1)" font-size="12.3" font-weight="bold" text-anchor="end" fill="#111" letter-spacing="0.4" stroke="#111" stroke-width="0.2">100</text>
<text transform="translate(345.10,443.70) scale(0.87,1)" font-size="12.3" font-weight="bold" text-anchor="middle" fill="#111" letter-spacing="0.5" stroke="#111" stroke-width="0.2">-12</text>
<text transform="translate(373.70,443.70) scale(0.87,1)" font-size="12.3" font-weight="bold" text-anchor="middle" fill="#111" letter-spacing="0.5" stroke="#111" stroke-width="0.2">-11</text>
<text transform="translate(402.30,443.70) scale(0.87,1)" font-size="12.3" font-weight="bold" text-anchor="middle" fill="#111" letter-spacing="0.5" stroke="#111" stroke-width="0.2">-10</text>
<text transform="translate(430.90,443.70) scale(0.87,1)" font-size="12.3" font-weight="bold" text-anchor="middle" fill="#111" letter-spacing="0.5" stroke="#111" stroke-width="0.2">-9</text>
<text transform="translate(459.50,443.70) scale(0.87,1)" font-size="12.3" font-weight="bold" text-anchor="middle" fill="#111" letter-spacing="0.5" stroke="#111" stroke-width="0.2">-8</text>
<text transform="translate(488.10,443.70) scale(0.87,1)" font-size="12.3" font-weight="bold" text-anchor="middle" fill="#111" letter-spacing="0.5" stroke="#111" stroke-width="0.2">-7</text>
<text transform="translate(516.70,443.70) scale(0.87,1)" font-size="12.3" font-weight="bold" text-anchor="middle" fill="#111" letter-spacing="0.5" stroke="#111" stroke-width="0.2">-6</text>
<text transform="translate(545.30,443.70) scale(0.87,1)" font-size="12.3" font-weight="bold" text-anchor="middle" fill="#111" letter-spacing="0.5" stroke="#111" stroke-width="0.2">-5</text>
<text transform="translate(411.80,459.20) scale(0.86,1)" font-size="11.8" font-weight="bold" text-anchor="start" fill="#111" stroke="#111" stroke-width="0.2">Log [SNP]</text>
<text transform="translate(465.00,459.20) scale(0.86,1)" font-size="11.8" font-weight="normal" text-anchor="start" fill="#333" stroke="#333" stroke-width="0.35">(M)</text>
<text transform="translate(324.00,355.60) rotate(-90) scale(0.93,1)" font-size="12.2" font-weight="bold" text-anchor="middle" fill="#111" stroke="#111" stroke-width="0.2">%&#160;EC<tspan font-size="9.6" font-weight="normal" stroke-width="0.35" dy="3.2" letter-spacing="0.8">80</tspan><tspan dy="-3.2"> U46619</tspan></text>
<polyline points="373.40,289.80 402.00,290.49 430.60,291.88 459.20,296.60 487.80,312.27 516.40,328.77" fill="none" stroke="#7e7e7e" stroke-width="1.8" stroke-linejoin="round"/>
<polyline points="373.40,291.90 375.21,291.91 377.02,291.93 378.83,291.94 380.64,291.95 382.45,291.97 384.26,291.99 386.07,292.01 387.88,292.04 389.69,292.06 391.50,292.09 393.31,292.13 395.12,292.16 396.93,292.20 398.74,292.25 400.55,292.30 402.36,292.36 404.17,292.43 405.98,292.50 407.79,292.58 409.60,292.67 411.41,292.77 413.22,292.88 415.03,293.01 416.84,293.15 418.65,293.31 420.46,293.48 422.27,293.68 424.08,293.89 425.89,294.13 427.70,294.40 429.51,294.70 431.32,295.03 433.13,295.39 434.94,295.80 436.75,296.25 438.56,296.74 440.37,297.29 442.18,297.90 443.99,298.56 445.81,299.29 447.62,300.09 449.43,300.97 451.24,301.93 453.05,302.97 454.86,304.10 456.67,305.33 458.48,306.65 460.29,308.07 462.10,309.59 463.91,311.21 465.72,312.94 467.53,314.76 469.34,316.68 471.15,318.68 472.96,320.77 474.77,322.93 476.58,325.16 478.39,327.43 480.20,329.74 482.01,332.08 483.82,334.42 485.63,336.76 487.44,339.09 489.25,341.37 491.06,343.61 492.87,345.79 494.68,347.90 496.49,349.93 498.30,351.87 500.11,353.72 501.92,355.47 503.73,357.12 505.54,358.67 507.35,360.12 509.16,361.47 510.97,362.73 512.78,363.88 514.59,364.95 516.40,365.93" fill="none" stroke="#0a0a0a" stroke-width="1.9" stroke-linejoin="round"/>
<polyline points="373.40,290.94 375.21,290.96 377.02,290.98 378.83,291.00 380.64,291.03 382.45,291.05 384.26,291.09 386.07,291.12 387.88,291.16 389.69,291.20 391.50,291.25 393.31,291.30 395.12,291.36 396.93,291.42 398.74,291.49 400.55,291.57 402.36,291.65 404.17,291.75 405.98,291.85 407.79,291.97 409.60,292.09 411.41,292.23 413.22,292.38 415.03,292.55 416.84,292.74 418.65,292.94 420.46,293.17 422.27,293.42 424.08,293.69 425.89,293.99 427.70,294.31 429.51,294.67 431.32,295.06 433.13,295.49 434.94,295.96 436.75,296.47 438.56,297.03 440.37,297.64 442.18,298.30 443.99,299.01 445.81,299.78 447.62,300.62 449.43,301.52 451.24,302.49 453.05,303.53 454.86,304.64 456.67,305.82 458.48,307.08 460.29,308.41 462.10,309.82 463.91,311.30 465.72,312.85 467.53,314.47 469.34,316.15 471.15,317.89 472.96,319.69 474.77,321.52 476.58,323.39 478.39,325.29 480.20,327.21 482.01,329.14 483.82,331.06 485.63,332.98 487.44,334.87 489.25,336.74 491.06,338.57 492.87,340.35 494.68,342.08 496.49,343.75 498.30,345.35 500.11,346.89 501.92,348.36 503.73,349.75 505.54,351.07 507.35,352.31 509.16,353.48 510.97,354.57 512.78,355.60 514.59,356.55 516.40,357.44" fill="none" stroke="#0a0a0a" stroke-width="1.6" stroke-linejoin="round" stroke-dasharray="4.5,3.5"/>
<line x1="487.80" y1="307.50" x2="487.80" y2="317.10" stroke="#7e7e7e" stroke-width="1.3" stroke-linecap="butt"/>
<line x1="485.30" y1="307.50" x2="490.30" y2="307.50" stroke="#7e7e7e" stroke-width="1.3" stroke-linecap="butt"/>
<line x1="485.30" y1="317.10" x2="490.30" y2="317.10" stroke="#7e7e7e" stroke-width="1.3" stroke-linecap="butt"/>
<line x1="516.40" y1="322.70" x2="516.40" y2="334.30" stroke="#7e7e7e" stroke-width="1.3" stroke-linecap="butt"/>
<line x1="513.90" y1="322.70" x2="518.90" y2="322.70" stroke="#7e7e7e" stroke-width="1.3" stroke-linecap="butt"/>
<line x1="513.90" y1="334.30" x2="518.90" y2="334.30" stroke="#7e7e7e" stroke-width="1.3" stroke-linecap="butt"/>
<line x1="459.20" y1="301.50" x2="459.20" y2="314.70" stroke="#0a0a0a" stroke-width="1.3" stroke-linecap="butt"/>
<line x1="456.70" y1="301.50" x2="461.70" y2="301.50" stroke="#0a0a0a" stroke-width="1.3" stroke-linecap="butt"/>
<line x1="456.70" y1="314.70" x2="461.70" y2="314.70" stroke="#0a0a0a" stroke-width="1.3" stroke-linecap="butt"/>
<line x1="487.80" y1="328.50" x2="487.80" y2="351.80" stroke="#0a0a0a" stroke-width="1.3" stroke-linecap="butt"/>
<line x1="485.30" y1="328.50" x2="490.30" y2="328.50" stroke="#0a0a0a" stroke-width="1.3" stroke-linecap="butt"/>
<line x1="485.30" y1="351.80" x2="490.30" y2="351.80" stroke="#0a0a0a" stroke-width="1.3" stroke-linecap="butt"/>
<line x1="516.40" y1="349.70" x2="516.40" y2="376.80" stroke="#0a0a0a" stroke-width="1.3" stroke-linecap="butt"/>
<line x1="513.90" y1="349.70" x2="518.90" y2="349.70" stroke="#0a0a0a" stroke-width="1.3" stroke-linecap="butt"/>
<line x1="513.90" y1="376.80" x2="518.90" y2="376.80" stroke="#0a0a0a" stroke-width="1.3" stroke-linecap="butt"/>
<circle cx="373.40" cy="289.80" r="2.8" fill="#6a6a6a"/>
<circle cx="402.00" cy="290.49" r="2.8" fill="#6a6a6a"/>
<circle cx="430.60" cy="291.88" r="2.8" fill="#6a6a6a"/>
<circle cx="459.20" cy="296.60" r="2.9" fill="#7e7e7e"/>
<circle cx="487.80" cy="312.27" r="2.9" fill="#7e7e7e"/>
<circle cx="516.40" cy="328.77" r="2.9" fill="#7e7e7e"/>
<rect x="370.65" y="287.05" width="5.50" height="5.50" fill="#fff" fill-opacity="0.15" stroke="#0a0a0a" stroke-width="1.3"/>
<rect x="399.25" y="288.44" width="5.50" height="5.50" fill="#fff" fill-opacity="0.15" stroke="#0a0a0a" stroke-width="1.3"/>
<rect x="427.85" y="289.13" width="5.50" height="5.50" fill="#fff" fill-opacity="0.15" stroke="#0a0a0a" stroke-width="1.3"/>
<rect x="456.45" y="303.69" width="5.50" height="5.50" fill="#fff" fill-opacity="0.15" stroke="#0a0a0a" stroke-width="1.3"/>
<rect x="485.05" y="333.65" width="5.50" height="5.50" fill="#fff" stroke="#0a0a0a" stroke-width="1.3"/>
<rect x="513.65" y="356.68" width="5.50" height="5.50" fill="#fff" stroke="#0a0a0a" stroke-width="1.3"/>
<polygon points="370.50,289.19 376.30,289.19 373.40,294.09" fill="#fff" fill-opacity="0.3" stroke="#0a0a0a" stroke-width="1.3" stroke-linejoin="miter"/>
<polygon points="399.10,290.85 404.90,290.85 402.00,295.75" fill="#fff" fill-opacity="0.3" stroke="#0a0a0a" stroke-width="1.3" stroke-linejoin="miter"/>
<polygon points="427.70,292.65 433.50,292.65 430.60,297.55" fill="#fff" fill-opacity="0.3" stroke="#0a0a0a" stroke-width="1.3" stroke-linejoin="miter"/>
<polygon points="456.30,305.83 462.10,305.83 459.20,310.73" fill="#fff" fill-opacity="0.3" stroke="#0a0a0a" stroke-width="1.3" stroke-linejoin="miter"/>
<polygon points="484.90,339.95 490.70,339.95 487.80,344.85" fill="#fff" stroke="#0a0a0a" stroke-width="1.3" stroke-linejoin="miter"/>
<polygon points="513.50,363.67 519.30,363.67 516.40,368.57" fill="#fff" stroke="#0a0a0a" stroke-width="1.3" stroke-linejoin="miter"/>
<polyline points="523.20,329.00 528.30,329.00 528.30,360.00 523.20,360.00" fill="none" stroke="#0a0a0a" stroke-width="1.3" stroke-linejoin="round"/>
<polyline points="540.00,329.00 544.60,329.00 544.60,367.40 540.00,367.40" fill="none" stroke="#0a0a0a" stroke-width="1.3" stroke-linejoin="round"/>
<path d="M533.30,342.80L533.30,340.30M533.30,342.80L535.68,342.03M533.30,342.80L534.77,344.82M533.30,342.80L531.83,344.82M533.30,342.80L530.92,342.03" stroke="#333" stroke-width="1.2" stroke-linecap="round" fill="none"/>
<path d="M540.50,342.80L540.50,340.30M540.50,342.80L542.88,342.03M540.50,342.80L541.97,344.82M540.50,342.80L539.03,344.82M540.50,342.80L538.12,342.03" stroke="#333" stroke-width="1.2" stroke-linecap="round" fill="none"/>
<path d="M552.00,343.30L552.00,340.80M552.00,343.30L554.38,342.53M552.00,343.30L553.47,345.32M552.00,343.30L550.53,345.32M552.00,343.30L549.62,342.53" stroke="#333" stroke-width="1.2" stroke-linecap="round" fill="none"/>
<path d="M559.70,343.30L559.70,340.80M559.70,343.30L562.08,342.53M559.70,343.30L561.17,345.32M559.70,343.30L558.23,345.32M559.70,343.30L557.32,342.53" stroke="#333" stroke-width="1.2" stroke-linecap="round" fill="none"/>
<line x1="53.00" y1="501.50" x2="53.00" y2="648.70" stroke="#0a0a0a" stroke-width="1.6" stroke-linecap="butt"/>
<line x1="49.50" y1="648.70" x2="238.00" y2="648.70" stroke="#0a0a0a" stroke-width="1.6" stroke-linecap="butt"/>
<line x1="49.50" y1="648.70" x2="53.00" y2="648.70" stroke="#0a0a0a" stroke-width="1.6" stroke-linecap="butt"/>
<line x1="49.50" y1="632.34" x2="53.00" y2="632.34" stroke="#0a0a0a" stroke-width="1.6" stroke-linecap="butt"/>
<line x1="49.50" y1="615.98" x2="53.00" y2="615.98" stroke="#0a0a0a" stroke-width="1.6" stroke-linecap="butt"/>
<line x1="49.50" y1="599.62" x2="53.00" y2="599.62" stroke="#0a0a0a" stroke-width="1.6" stroke-linecap="butt"/>
<line x1="49.50" y1="583.26" x2="53.00" y2="583.26" stroke="#0a0a0a" stroke-width="1.6" stroke-linecap="butt"/>
<line x1="49.50" y1="566.90" x2="53.00" y2="566.90" stroke="#0a0a0a" stroke-width="1.6" stroke-linecap="butt"/>
<line x1="49.50" y1="550.54" x2="53.00" y2="550.54" stroke="#0a0a0a" stroke-width="1.6" stroke-linecap="butt"/>
<line x1="49.50" y1="534.18" x2="53.00" y2="534.18" stroke="#0a0a0a" stroke-width="1.6" stroke-linecap="butt"/>
<line x1="49.50" y1="517.82" x2="53.00" y2="517.82" stroke="#0a0a0a" stroke-width="1.6" stroke-linecap="butt"/>
<line x1="49.50" y1="501.46" x2="53.00" y2="501.46" stroke="#0a0a0a" stroke-width="1.6" stroke-linecap="butt"/>
<line x1="53.00" y1="648.70" x2="53.00" y2="652.20" stroke="#0a0a0a" stroke-width="1.6" stroke-linecap="butt"/>
<line x1="99.30" y1="648.70" x2="99.30" y2="652.20" stroke="#0a0a0a" stroke-width="1.6" stroke-linecap="butt"/>
<line x1="145.60" y1="648.70" x2="145.60" y2="652.20" stroke="#0a0a0a" stroke-width="1.6" stroke-linecap="butt"/>
<line x1="191.90" y1="648.70" x2="191.90" y2="652.20" stroke="#0a0a0a" stroke-width="1.6" stroke-linecap="butt"/>
<line x1="238.20" y1="648.70" x2="238.20" y2="652.20" stroke="#0a0a0a" stroke-width="1.6" stroke-linecap="butt"/>
<text transform="translate(49.00,652.70) scale(0.98,1)" font-size="11.8" font-weight="bold" text-anchor="end" fill="#111" stroke="#111" stroke-width="0.2">0</text>
<text transform="translate(49.00,636.34) scale(0.98,1)" font-size="11.8" font-weight="bold" text-anchor="end" fill="#111" stroke="#111" stroke-width="0.2">2</text>
<text transform="translate(49.00,619.98) scale(0.98,1)" font-size="11.8" font-weight="bold" text-anchor="end" fill="#111" stroke="#111" stroke-width="0.2">4</text>
<text transform="translate(49.00,603.62) scale(0.98,1)" font-size="11.8" font-weight="bold" text-anchor="end" fill="#111" stroke="#111" stroke-width="0.2">6</text>
<text transform="translate(49.00,587.26) scale(0.98,1)" font-size="11.8" font-weight="bold" text-anchor="end" fill="#111" stroke="#111" stroke-width="0.2">8</text>
<text transform="translate(49.00,570.90) scale(0.98,1)" font-size="11.8" font-weight="bold" text-anchor="end" fill="#111" stroke="#111" stroke-width="0.2">10</text>
<text transform="translate(49.00,554.54) scale(0.98,1)" font-size="11.8" font-weight="bold" text-anchor="end" fill="#111" stroke="#111" stroke-width="0.2">12</text>
<text transform="translate(49.00,538.18) scale(0.98,1)" font-size="11.8" font-weight="bold" text-anchor="end" fill="#111" stroke="#111" stroke-width="0.2">14</text>
<text transform="translate(49.00,521.82) scale(0.98,1)" font-size="11.8" font-weight="bold" text-anchor="end" fill="#111" stroke="#111" stroke-width="0.2">16</text>
<text transform="translate(49.00,505.46) scale(0.98,1)" font-size="11.8" font-weight="bold" text-anchor="end" fill="#111" stroke="#111" stroke-width="0.2">18</text>
<text transform="translate(54.00,663.00) scale(0.91,1)" font-size="12.0" font-weight="bold" text-anchor="middle" fill="#111" letter-spacing="0.5" stroke="#111" stroke-width="0.2">-12</text>
<text transform="translate(100.30,663.00) scale(0.91,1)" font-size="12.0" font-weight="bold" text-anchor="middle" fill="#111" letter-spacing="0.5" stroke="#111" stroke-width="0.2">-10</text>
<text transform="translate(146.60,663.00) scale(0.91,1)" font-size="12.0" font-weight="bold" text-anchor="middle" fill="#111" letter-spacing="0.5" stroke="#111" stroke-width="0.2">-8</text>
<text transform="translate(192.90,663.00) scale(0.91,1)" font-size="12.0" font-weight="bold" text-anchor="middle" fill="#111" letter-spacing="0.5" stroke="#111" stroke-width="0.2">-6</text>
<text transform="translate(239.20,663.00) scale(0.91,1)" font-size="12.0" font-weight="bold" text-anchor="middle" fill="#111" letter-spacing="0.5" stroke="#111" stroke-width="0.2">-4</text>
<text transform="translate(140.50,679.70) scale(1.02,1)" font-size="11.6" font-weight="normal" text-anchor="middle" fill="#222" stroke="#222" stroke-width="0.15">Log [U46619] (M)</text>
<text transform="translate(18.80,573.00) rotate(-90) scale(1.02,1)" font-size="11.6" font-weight="normal" text-anchor="middle" fill="#222" stroke="#222" stroke-width="0.15">Active Effective&#160; Pressure</text>
<text transform="translate(33.20,576.60) rotate(-90) scale(1.08,1)" font-size="11.6" font-weight="normal" text-anchor="middle" fill="#222" stroke="#222" stroke-width="0.15">(kPa)</text>
<polyline points="99.30,648.70 122.45,648.70 145.60,646.25 168.75,605.59 191.90,546.70 198.84,536.88" fill="none" stroke="#7e7e7e" stroke-width="1.8" stroke-linejoin="round"/>
<polyline points="99.30,648.70 122.45,648.70 145.60,645.43 168.75,582.44 191.90,566.08 198.84,564.20" fill="none" stroke="#0a0a0a" stroke-width="1.3" stroke-linejoin="round" stroke-dasharray="4,3"/>
<polyline points="99.30,648.70 122.45,648.70 145.60,646.25 168.75,617.21 191.90,583.59 198.84,578.92" fill="none" stroke="#0a0a0a" stroke-width="1.3" stroke-linejoin="round"/>
<line x1="168.75" y1="595.53" x2="168.75" y2="615.98" stroke="#7e7e7e" stroke-width="1.3" stroke-linecap="butt"/>
<line x1="166.25" y1="595.53" x2="171.25" y2="595.53" stroke="#7e7e7e" stroke-width="1.3" stroke-linecap="butt"/>
<line x1="166.25" y1="615.98" x2="171.25" y2="615.98" stroke="#7e7e7e" stroke-width="1.3" stroke-linecap="butt"/>
<line x1="191.90" y1="531.73" x2="191.90" y2="561.99" stroke="#7e7e7e" stroke-width="1.3" stroke-linecap="butt"/>
<line x1="189.40" y1="531.73" x2="194.40" y2="531.73" stroke="#7e7e7e" stroke-width="1.3" stroke-linecap="butt"/>
<line x1="189.40" y1="561.99" x2="194.40" y2="561.99" stroke="#7e7e7e" stroke-width="1.3" stroke-linecap="butt"/>
<line x1="198.84" y1="517.49" x2="198.84" y2="556.27" stroke="#7e7e7e" stroke-width="1.3" stroke-linecap="butt"/>
<line x1="196.34" y1="517.49" x2="201.34" y2="517.49" stroke="#7e7e7e" stroke-width="1.3" stroke-linecap="butt"/>
<line x1="196.34" y1="556.27" x2="201.34" y2="556.27" stroke="#7e7e7e" stroke-width="1.3" stroke-linecap="butt"/>
<line x1="168.75" y1="554.22" x2="168.75" y2="610.66" stroke="#0a0a0a" stroke-width="1.3" stroke-linecap="butt"/>
<line x1="166.25" y1="554.22" x2="171.25" y2="554.22" stroke="#0a0a0a" stroke-width="1.3" stroke-linecap="butt"/>
<line x1="166.25" y1="610.66" x2="171.25" y2="610.66" stroke="#0a0a0a" stroke-width="1.3" stroke-linecap="butt"/>
<line x1="168.75" y1="601.26" x2="168.75" y2="632.59" stroke="#0a0a0a" stroke-width="1.3" stroke-linecap="butt"/>
<line x1="166.25" y1="601.26" x2="171.25" y2="601.26" stroke="#0a0a0a" stroke-width="1.3" stroke-linecap="butt"/>
<line x1="166.25" y1="632.59" x2="171.25" y2="632.59" stroke="#0a0a0a" stroke-width="1.3" stroke-linecap="butt"/>
<line x1="191.90" y1="534.18" x2="191.90" y2="597.58" stroke="#0a0a0a" stroke-width="1.3" stroke-linecap="butt"/>
<line x1="189.40" y1="534.18" x2="194.40" y2="534.18" stroke="#0a0a0a" stroke-width="1.3" stroke-linecap="butt"/>
<line x1="189.40" y1="597.58" x2="194.40" y2="597.58" stroke="#0a0a0a" stroke-width="1.3" stroke-linecap="butt"/>
<line x1="191.90" y1="569.35" x2="191.90" y2="597.58" stroke="#0a0a0a" stroke-width="1.3" stroke-linecap="butt"/>
<line x1="189.40" y1="569.35" x2="194.40" y2="569.35" stroke="#0a0a0a" stroke-width="1.3" stroke-linecap="butt"/>
<line x1="189.40" y1="597.58" x2="194.40" y2="597.58" stroke="#0a0a0a" stroke-width="1.3" stroke-linecap="butt"/>
<line x1="198.84" y1="532.54" x2="198.84" y2="595.69" stroke="#0a0a0a" stroke-width="1.3" stroke-linecap="butt"/>
<line x1="196.34" y1="532.54" x2="201.34" y2="532.54" stroke="#0a0a0a" stroke-width="1.3" stroke-linecap="butt"/>
<line x1="196.34" y1="595.69" x2="201.34" y2="595.69" stroke="#0a0a0a" stroke-width="1.3" stroke-linecap="butt"/>
<line x1="198.84" y1="561.99" x2="198.84" y2="595.69" stroke="#0a0a0a" stroke-width="1.3" stroke-linecap="butt"/>
<line x1="196.34" y1="561.99" x2="201.34" y2="561.99" stroke="#0a0a0a" stroke-width="1.3" stroke-linecap="butt"/>
<line x1="196.34" y1="595.69" x2="201.34" y2="595.69" stroke="#0a0a0a" stroke-width="1.3" stroke-linecap="butt"/>
<rect x="96.55" y="645.95" width="5.50" height="5.50" fill="#fff" stroke="#0a0a0a" stroke-width="1.3"/>
<rect x="119.70" y="645.95" width="5.50" height="5.50" fill="#fff" stroke="#0a0a0a" stroke-width="1.3"/>
<rect x="142.85" y="642.68" width="5.50" height="5.50" fill="#fff" stroke="#0a0a0a" stroke-width="1.3"/>
<rect x="166.00" y="579.69" width="5.50" height="5.50" fill="#fff" stroke="#0a0a0a" stroke-width="1.3"/>
<rect x="189.15" y="563.33" width="5.50" height="5.50" fill="#fff" stroke="#0a0a0a" stroke-width="1.3"/>
<rect x="196.09" y="561.45" width="5.50" height="5.50" fill="#fff" stroke="#0a0a0a" stroke-width="1.3"/>
<polygon points="165.85,615.21 171.65,615.21 168.75,620.11" fill="#fff" stroke="#0a0a0a" stroke-width="1.3" stroke-linejoin="miter"/>
<polygon points="189.00,581.59 194.80,581.59 191.90,586.49" fill="#fff" stroke="#0a0a0a" stroke-width="1.3" stroke-linejoin="miter"/>
<polygon points="195.94,576.92 201.75,576.92 198.84,581.82" fill="#fff" stroke="#0a0a0a" stroke-width="1.3" stroke-linejoin="miter"/>
<circle cx="99.30" cy="648.70" r="3.0" fill="#666"/>
<circle cx="122.45" cy="648.70" r="3.0" fill="#666"/>
<circle cx="145.60" cy="646.25" r="3.0" fill="#666"/>
<circle cx="168.75" cy="605.59" r="2.9" fill="#7e7e7e"/>
<circle cx="191.90" cy="546.70" r="2.9" fill="#7e7e7e"/>
<circle cx="198.84" cy="536.88" r="2.9" fill="#7e7e7e"/>
<line x1="344.90" y1="501.50" x2="344.90" y2="647.60" stroke="#0a0a0a" stroke-width="1.6" stroke-linecap="butt"/>
<line x1="341.40" y1="647.60" x2="548.60" y2="647.60" stroke="#0a0a0a" stroke-width="1.6" stroke-linecap="butt"/>
<line x1="341.40" y1="647.60" x2="344.90" y2="647.60" stroke="#0a0a0a" stroke-width="1.6" stroke-linecap="butt"/>
<line x1="341.40" y1="618.42" x2="344.90" y2="618.42" stroke="#0a0a0a" stroke-width="1.6" stroke-linecap="butt"/>
<line x1="341.40" y1="589.24" x2="344.90" y2="589.24" stroke="#0a0a0a" stroke-width="1.6" stroke-linecap="butt"/>
<line x1="341.40" y1="560.06" x2="344.90" y2="560.06" stroke="#0a0a0a" stroke-width="1.6" stroke-linecap="butt"/>
<line x1="341.40" y1="530.88" x2="344.90" y2="530.88" stroke="#0a0a0a" stroke-width="1.6" stroke-linecap="butt"/>
<line x1="341.40" y1="501.70" x2="344.90" y2="501.70" stroke="#0a0a0a" stroke-width="1.6" stroke-linecap="butt"/>
<line x1="344.90" y1="647.60" x2="344.90" y2="651.10" stroke="#0a0a0a" stroke-width="1.6" stroke-linecap="butt"/>
<line x1="373.95" y1="647.60" x2="373.95" y2="651.10" stroke="#0a0a0a" stroke-width="1.6" stroke-linecap="butt"/>
<line x1="403.00" y1="647.60" x2="403.00" y2="651.10" stroke="#0a0a0a" stroke-width="1.6" stroke-linecap="butt"/>
<line x1="432.05" y1="647.60" x2="432.05" y2="651.10" stroke="#0a0a0a" stroke-width="1.6" stroke-linecap="butt"/>
<line x1="461.10" y1="647.60" x2="461.10" y2="651.10" stroke="#0a0a0a" stroke-width="1.6" stroke-linecap="butt"/>
<line x1="490.15" y1="647.60" x2="490.15" y2="651.10" stroke="#0a0a0a" stroke-width="1.6" stroke-linecap="butt"/>
<line x1="519.20" y1="647.60" x2="519.20" y2="651.10" stroke="#0a0a0a" stroke-width="1.6" stroke-linecap="butt"/>
<line x1="548.25" y1="647.60" x2="548.25" y2="651.10" stroke="#0a0a0a" stroke-width="1.6" stroke-linecap="butt"/>
<text transform="translate(340.30,651.60) scale(0.84,1)" font-size="12.0" font-weight="bold" text-anchor="end" fill="#111" letter-spacing="0.4" stroke="#111" stroke-width="0.2">0</text>
<text transform="translate(340.30,622.42) scale(0.84,1)" font-size="12.0" font-weight="bold" text-anchor="end" fill="#111" letter-spacing="0.4" stroke="#111" stroke-width="0.2">20</text>
<text transform="translate(340.30,593.24) scale(0.84,1)" font-size="12.0" font-weight="bold" text-anchor="end" fill="#111" letter-spacing="0.4" stroke="#111" stroke-width="0.2">40</text>
<text transform="translate(340.30,564.06) scale(0.84,1)" font-size="12.0" font-weight="bold" text-anchor="end" fill="#111" letter-spacing="0.4" stroke="#111" stroke-width="0.2">60</text>
<text transform="translate(340.30,534.88) scale(0.84,1)" font-size="12.0" font-weight="bold" text-anchor="end" fill="#111" letter-spacing="0.4" stroke="#111" stroke-width="0.2">80</text>
<text transform="translate(340.30,505.70) scale(0.84,1)" font-size="12.0" font-weight="bold" text-anchor="end" fill="#111" letter-spacing="0.4" stroke="#111" stroke-width="0.2">100</text>
<text transform="translate(345.20,662.80) scale(0.87,1)" font-size="12.0" font-weight="bold" text-anchor="middle" fill="#111" letter-spacing="0.5" stroke="#111" stroke-width="0.2">-11</text>
<text transform="translate(374.25,662.80) scale(0.87,1)" font-size="12.0" font-weight="bold" text-anchor="middle" fill="#111" letter-spacing="0.5" stroke="#111" stroke-width="0.2">-10</text>
<text transform="translate(403.30,662.80) scale(0.87,1)" font-size="12.0" font-weight="bold" text-anchor="middle" fill="#111" letter-spacing="0.5" stroke="#111" stroke-width="0.2">-9</text>
<text transform="translate(432.35,662.80) scale(0.87,1)" font-size="12.0" font-weight="bold" text-anchor="middle" fill="#111" letter-spacing="0.5" stroke="#111" stroke-width="0.2">-8</text>
<text transform="translate(461.40,662.80) scale(0.87,1)" font-size="12.0" font-weight="bold" text-anchor="middle" fill="#111" letter-spacing="0.5" stroke="#111" stroke-width="0.2">-7</text>
<text transform="translate(490.45,662.80) scale(0.87,1)" font-size="12.0" font-weight="bold" text-anchor="middle" fill="#111" letter-spacing="0.5" stroke="#111" stroke-width="0.2">-6</text>
<text transform="translate(519.50,662.80) scale(0.87,1)" font-size="12.0" font-weight="bold" text-anchor="middle" fill="#111" letter-spacing="0.5" stroke="#111" stroke-width="0.2">-5</text>
<text transform="translate(548.55,662.80) scale(0.87,1)" font-size="12.0" font-weight="bold" text-anchor="middle" fill="#111" letter-spacing="0.5" stroke="#111" stroke-width="0.2">-4</text>
<text transform="translate(415.30,678.40) scale(0.86,1)" font-size="11.8" font-weight="bold" text-anchor="start" fill="#111" stroke="#111" stroke-width="0.2">Log [BK]</text>
<text transform="translate(462.00,678.40) scale(0.86,1)" font-size="11.8" font-weight="normal" text-anchor="start" fill="#333" stroke="#333" stroke-width="0.35">(M)</text>
<text transform="translate(315.60,574.00) rotate(-90) scale(0.93,1)" font-size="12.2" font-weight="bold" text-anchor="middle" fill="#111" stroke="#111" stroke-width="0.2">%&#160;EC<tspan font-size="9.6" font-weight="normal" stroke-width="0.35" dy="3.2" letter-spacing="0.8">80</tspan><tspan dy="-3.2"> U46619</tspan></text>
<polyline points="373.95,521.00 403.00,530.20 432.05,536.50 461.10,571.40 490.15,593.70 519.20,609.20" fill="none" stroke="#7e7e7e" stroke-width="1.8" stroke-linejoin="round"/>
<polyline points="373.95,515.00 403.00,531.80 432.05,565.60 461.10,590.40 490.15,619.40 519.20,629.10" fill="none" stroke="#0a0a0a" stroke-width="1.6" stroke-linejoin="round" stroke-dasharray="5,4"/>
<polyline points="373.95,520.60 403.00,561.50 432.05,594.20 461.10,627.60 490.15,633.40 519.20,636.20" fill="none" stroke="#0a0a0a" stroke-width="1.9" stroke-linejoin="round"/>
<line x1="373.95" y1="504.70" x2="373.95" y2="537.30" stroke="#7e7e7e" stroke-width="1.3" stroke-linecap="butt"/>
<line x1="371.45" y1="504.70" x2="376.45" y2="504.70" stroke="#7e7e7e" stroke-width="1.3" stroke-linecap="butt"/>
<line x1="371.45" y1="537.30" x2="376.45" y2="537.30" stroke="#7e7e7e" stroke-width="1.3" stroke-linecap="butt"/>
<line x1="403.00" y1="504.80" x2="403.00" y2="555.60" stroke="#7e7e7e" stroke-width="1.3" stroke-linecap="butt"/>
<line x1="400.50" y1="504.80" x2="405.50" y2="504.80" stroke="#7e7e7e" stroke-width="1.3" stroke-linecap="butt"/>
<line x1="400.50" y1="555.60" x2="405.50" y2="555.60" stroke="#7e7e7e" stroke-width="1.3" stroke-linecap="butt"/>
<line x1="432.05" y1="509.30" x2="432.05" y2="563.70" stroke="#7e7e7e" stroke-width="1.3" stroke-linecap="butt"/>
<line x1="429.55" y1="509.30" x2="434.55" y2="509.30" stroke="#7e7e7e" stroke-width="1.3" stroke-linecap="butt"/>
<line x1="429.55" y1="563.70" x2="434.55" y2="563.70" stroke="#7e7e7e" stroke-width="1.3" stroke-linecap="butt"/>
<line x1="461.10" y1="543.30" x2="461.10" y2="599.50" stroke="#7e7e7e" stroke-width="1.3" stroke-linecap="butt"/>
<line x1="458.60" y1="543.30" x2="463.60" y2="543.30" stroke="#7e7e7e" stroke-width="1.3" stroke-linecap="butt"/>
<line x1="458.60" y1="599.50" x2="463.60" y2="599.50" stroke="#7e7e7e" stroke-width="1.3" stroke-linecap="butt"/>
<line x1="490.15" y1="570.50" x2="490.15" y2="616.90" stroke="#7e7e7e" stroke-width="1.3" stroke-linecap="butt"/>
<line x1="487.65" y1="570.50" x2="492.65" y2="570.50" stroke="#7e7e7e" stroke-width="1.3" stroke-linecap="butt"/>
<line x1="487.65" y1="616.90" x2="492.65" y2="616.90" stroke="#7e7e7e" stroke-width="1.3" stroke-linecap="butt"/>
<line x1="519.20" y1="592.20" x2="519.20" y2="626.20" stroke="#7e7e7e" stroke-width="1.3" stroke-linecap="butt"/>
<line x1="516.70" y1="592.20" x2="521.70" y2="592.20" stroke="#7e7e7e" stroke-width="1.3" stroke-linecap="butt"/>
<line x1="516.70" y1="626.20" x2="521.70" y2="626.20" stroke="#7e7e7e" stroke-width="1.3" stroke-linecap="butt"/>
<line x1="373.95" y1="506.50" x2="373.95" y2="523.50" stroke="#0a0a0a" stroke-width="1.3" stroke-linecap="butt"/>
<line x1="371.45" y1="506.50" x2="376.45" y2="506.50" stroke="#0a0a0a" stroke-width="1.3" stroke-linecap="butt"/>
<line x1="371.45" y1="523.50" x2="376.45" y2="523.50" stroke="#0a0a0a" stroke-width="1.3" stroke-linecap="butt"/>
<line x1="403.00" y1="515.80" x2="403.00" y2="547.80" stroke="#0a0a0a" stroke-width="1.3" stroke-linecap="butt"/>
<line x1="400.50" y1="515.80" x2="405.50" y2="515.80" stroke="#0a0a0a" stroke-width="1.3" stroke-linecap="butt"/>
<line x1="400.50" y1="547.80" x2="405.50" y2="547.80" stroke="#0a0a0a" stroke-width="1.3" stroke-linecap="butt"/>
<line x1="432.05" y1="545.00" x2="432.05" y2="586.20" stroke="#0a0a0a" stroke-width="1.3" stroke-linecap="butt"/>
<line x1="429.55" y1="545.00" x2="434.55" y2="545.00" stroke="#0a0a0a" stroke-width="1.3" stroke-linecap="butt"/>
<line x1="429.55" y1="586.20" x2="434.55" y2="586.20" stroke="#0a0a0a" stroke-width="1.3" stroke-linecap="butt"/>
<line x1="461.10" y1="569.90" x2="461.10" y2="610.90" stroke="#0a0a0a" stroke-width="1.3" stroke-linecap="butt"/>
<line x1="458.60" y1="569.90" x2="463.60" y2="569.90" stroke="#0a0a0a" stroke-width="1.3" stroke-linecap="butt"/>
<line x1="458.60" y1="610.90" x2="463.60" y2="610.90" stroke="#0a0a0a" stroke-width="1.3" stroke-linecap="butt"/>
<line x1="490.15" y1="611.40" x2="490.15" y2="627.40" stroke="#0a0a0a" stroke-width="1.3" stroke-linecap="butt"/>
<line x1="487.65" y1="611.40" x2="492.65" y2="611.40" stroke="#0a0a0a" stroke-width="1.3" stroke-linecap="butt"/>
<line x1="487.65" y1="627.40" x2="492.65" y2="627.40" stroke="#0a0a0a" stroke-width="1.3" stroke-linecap="butt"/>
<line x1="519.20" y1="624.70" x2="519.20" y2="633.50" stroke="#0a0a0a" stroke-width="1.3" stroke-linecap="butt"/>
<line x1="516.70" y1="624.70" x2="521.70" y2="624.70" stroke="#0a0a0a" stroke-width="1.3" stroke-linecap="butt"/>
<line x1="516.70" y1="633.50" x2="521.70" y2="633.50" stroke="#0a0a0a" stroke-width="1.3" stroke-linecap="butt"/>
<line x1="373.95" y1="510.60" x2="373.95" y2="530.60" stroke="#0a0a0a" stroke-width="1.3" stroke-linecap="butt"/>
<line x1="371.45" y1="510.60" x2="376.45" y2="510.60" stroke="#0a0a0a" stroke-width="1.3" stroke-linecap="butt"/>
<line x1="371.45" y1="530.60" x2="376.45" y2="530.60" stroke="#0a0a0a" stroke-width="1.3" stroke-linecap="butt"/>
<line x1="403.00" y1="528.80" x2="403.00" y2="594.20" stroke="#0a0a0a" stroke-width="1.3" stroke-linecap="butt"/>
<line x1="400.50" y1="528.80" x2="405.50" y2="528.80" stroke="#0a0a0a" stroke-width="1.3" stroke-linecap="butt"/>
<line x1="400.50" y1="594.20" x2="405.50" y2="594.20" stroke="#0a0a0a" stroke-width="1.3" stroke-linecap="butt"/>
<line x1="432.05" y1="562.50" x2="432.05" y2="625.90" stroke="#0a0a0a" stroke-width="1.3" stroke-linecap="butt"/>
<line x1="429.55" y1="562.50" x2="434.55" y2="562.50" stroke="#0a0a0a" stroke-width="1.3" stroke-linecap="butt"/>
<line x1="429.55" y1="625.90" x2="434.55" y2="625.90" stroke="#0a0a0a" stroke-width="1.3" stroke-linecap="butt"/>
<line x1="461.10" y1="622.60" x2="461.10" y2="632.60" stroke="#0a0a0a" stroke-width="1.3" stroke-linecap="butt"/>
<line x1="458.60" y1="622.60" x2="463.60" y2="622.60" stroke="#0a0a0a" stroke-width="1.3" stroke-linecap="butt"/>
<line x1="458.60" y1="632.60" x2="463.60" y2="632.60" stroke="#0a0a0a" stroke-width="1.3" stroke-linecap="butt"/>
<line x1="490.15" y1="630.40" x2="490.15" y2="636.40" stroke="#0a0a0a" stroke-width="1.3" stroke-linecap="butt"/>
<line x1="487.65" y1="630.40" x2="492.65" y2="630.40" stroke="#0a0a0a" stroke-width="1.3" stroke-linecap="butt"/>
<line x1="487.65" y1="636.40" x2="492.65" y2="636.40" stroke="#0a0a0a" stroke-width="1.3" stroke-linecap="butt"/>
<line x1="519.20" y1="634.20" x2="519.20" y2="638.20" stroke="#0a0a0a" stroke-width="1.3" stroke-linecap="butt"/>
<line x1="516.70" y1="634.20" x2="521.70" y2="634.20" stroke="#0a0a0a" stroke-width="1.3" stroke-linecap="butt"/>
<line x1="516.70" y1="638.20" x2="521.70" y2="638.20" stroke="#0a0a0a" stroke-width="1.3" stroke-linecap="butt"/>
<rect x="371.20" y="512.25" width="5.50" height="5.50" fill="#fff" stroke="#0a0a0a" stroke-width="1.3"/>
<rect x="400.25" y="529.05" width="5.50" height="5.50" fill="#fff" stroke="#0a0a0a" stroke-width="1.3"/>
<rect x="429.30" y="562.85" width="5.50" height="5.50" fill="#fff" stroke="#0a0a0a" stroke-width="1.3"/>
<rect x="458.35" y="587.65" width="5.50" height="5.50" fill="#fff" stroke="#0a0a0a" stroke-width="1.3"/>
<rect x="487.40" y="616.65" width="5.50" height="5.50" fill="#fff" stroke="#0a0a0a" stroke-width="1.3"/>
<rect x="516.45" y="626.35" width="5.50" height="5.50" fill="#fff" stroke="#0a0a0a" stroke-width="1.3"/>
<polygon points="371.05,518.60 376.85,518.60 373.95,523.50" fill="#fff" stroke="#0a0a0a" stroke-width="1.3" stroke-linejoin="miter"/>
<polygon points="400.10,559.50 405.90,559.50 403.00,564.40" fill="#fff" stroke="#0a0a0a" stroke-width="1.3" stroke-linejoin="miter"/>
<polygon points="429.15,592.20 434.95,592.20 432.05,597.10" fill="#fff" stroke="#0a0a0a" stroke-width="1.3" stroke-linejoin="miter"/>
<polygon points="458.20,625.60 464.00,625.60 461.10,630.50" fill="#fff" stroke="#0a0a0a" stroke-width="1.3" stroke-linejoin="miter"/>
<polygon points="487.25,631.40 493.05,631.40 490.15,636.30" fill="#fff" stroke="#0a0a0a" stroke-width="1.3" stroke-linejoin="miter"/>
<polygon points="516.30,634.20 522.10,634.20 519.20,639.10" fill="#fff" stroke="#0a0a0a" stroke-width="1.3" stroke-linejoin="miter"/>
<circle cx="373.95" cy="521.00" r="2.9" fill="#7e7e7e"/>
<circle cx="403.00" cy="530.20" r="2.9" fill="#7e7e7e"/>
<circle cx="432.05" cy="536.50" r="2.9" fill="#7e7e7e"/>
<circle cx="461.10" cy="571.40" r="2.9" fill="#7e7e7e"/>
<circle cx="490.15" cy="593.70" r="2.9" fill="#7e7e7e"/>
<circle cx="519.20" cy="609.20" r="2.9" fill="#7e7e7e"/>
<polyline points="526.20,608.90 531.30,608.90 531.30,637.30 526.20,637.30" fill="none" stroke="#0a0a0a" stroke-width="1.4" stroke-linejoin="round"/>
<path d="M535.00,624.00L535.00,621.60M535.00,624.00L537.28,623.26M535.00,624.00L536.41,625.94M535.00,624.00L533.59,625.94M535.00,624.00L532.72,623.26" stroke="#333" stroke-width="1.1" stroke-linecap="round" fill="none"/>
</svg>
</body></html>
